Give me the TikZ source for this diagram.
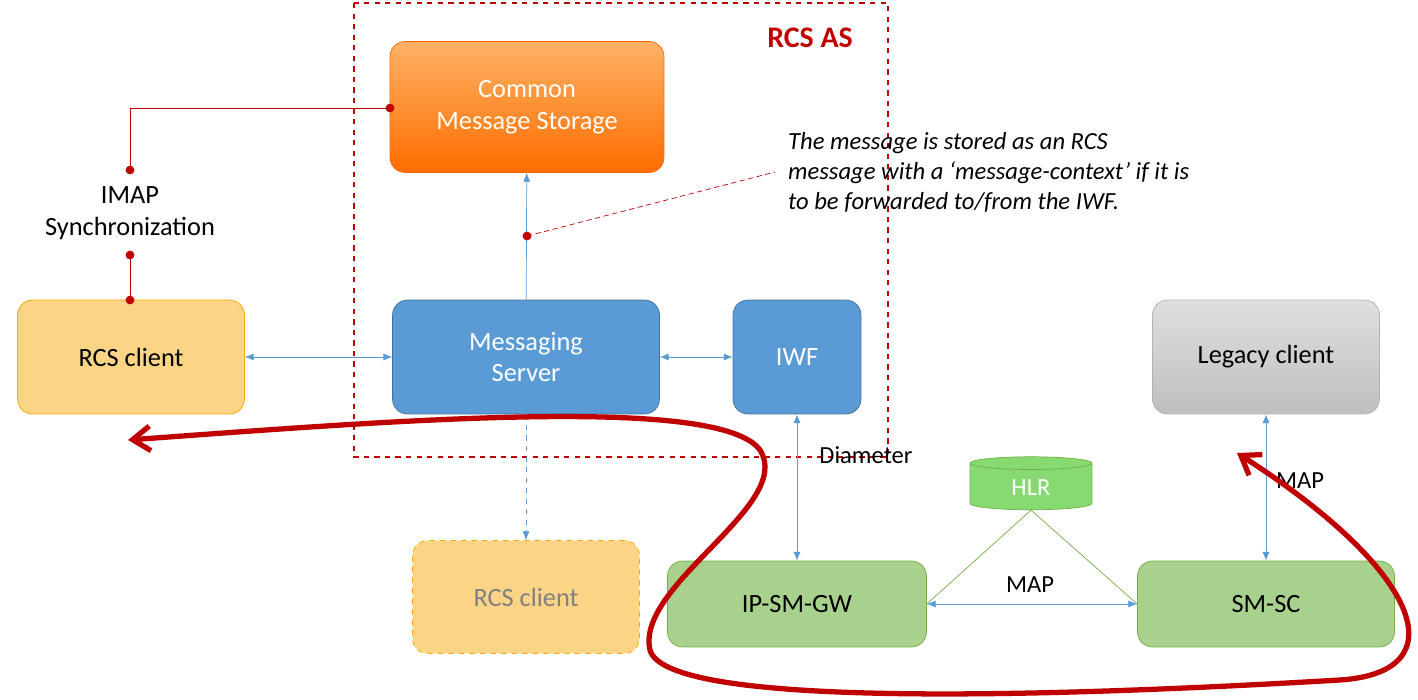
\documentclass[tikz,border=0pt]{standalone}
\usepackage{fontspec}
\setmainfont{Carlito}
\usetikzlibrary{shapes.geometric,arrows.meta}
\definecolor{msblue}{HTML}{5B9BD5}
\definecolor{msedge}{HTML}{41719C}
\definecolor{rcsred}{HTML}{C00000}
\definecolor{gwgreen}{HTML}{A9D18E}
\definecolor{gwedge}{HTML}{70AD47}
\tikzset{
  box/.style={draw, rounded corners=0.3cm, align=center, font=\fontsize{15}{18}\selectfont},
  bluebox/.style={box, fill=msblue, draw=msedge, text=white},
  greenbox/.style={box, fill=gwgreen, draw=gwedge, text=black},
  clientbox/.style={box, fill=yellow!30!orange!45, draw=orange!70!yellow, text=black},
  link/.style={msblue, {Latex[length=5pt,width=4pt]}-{Latex[length=5pt,width=4pt]}},
  dot/.style={circle, fill=rcsred, inner sep=0pt, minimum size=5pt}
}
\begin{document}
\begin{tikzpicture}[x=0.02cm, y=-0.02cm]
  \useasboundingbox (0,0) rectangle (1418,700);

  % RCS AS frame
  \draw[rcsred, dashed, thick] (354,3) rectangle (888,457);
  \node[text=rcsred, font=\fontsize{17}{20}\selectfont\bfseries] (asname) at (810,38) {RCS AS};

  % boxes
  \node[box, top color=orange!60!white, bottom color=orange!85!red, draw=orange!80!red, text=white,
        minimum width=5.48cm, minimum height=2.62cm] (cms) at (527,107) {Common\\Message Storage};
  \node[bluebox, minimum width=5.34cm, minimum height=2.28cm] (ms) at (526,357) {Messaging\\Server};
  \node[bluebox, minimum width=2.56cm, minimum height=2.28cm] (iwf) at (797,357) {IWF};
  \node[clientbox, minimum width=4.54cm, minimum height=2.28cm] (rcs) at (131,357) {RCS client};
  \node[box, top color=gray!25, bottom color=gray!50, draw=gray!60, minimum width=4.54cm, minimum height=2.28cm] (legacy) at (1266,357) {Legacy client};
  \node[clientbox, dashed, text=gray, minimum width=4.54cm, minimum height=2.26cm] (rcs2) at (526,597) {RCS client};
  \node[greenbox, minimum width=5.18cm, minimum height=1.72cm] (gw) at (797,604) {IP-SM-GW};
  \node[greenbox, minimum width=5.14cm, minimum height=1.72cm] (smsc) at (1266,604) {SM-SC};
  \node[cylinder, shape border rotate=90, aspect=0.25, fill=gwgreen!80!green, draw=gwedge, text=white,
        minimum width=2.44cm, minimum height=1.06cm, font=\fontsize{14}{16}\selectfont] (hlr) at (1031,488) {HLR};

  % IMAP synchronization
  \node[font=\fontsize{15}{18}\selectfont, align=center] (imap) at (130,213) {IMAP\\Synchronization};
  \coordinate (c1) at (390,108);
  \coordinate (c2) at (130,108);
  \coordinate (c3) at (130,170);
  \coordinate (c4) at (130,255);
  \coordinate (c5) at (130,300);
  \draw[rcsred] (c1) -- (c2) -- (c3);
  \draw[rcsred] (c4) -- (c5);
  \foreach \c in {c1,c3,c4,c5} \node[dot] at (\c) {};

  % links
  \draw[link] (rcs) -- (ms);
  \draw[link] (ms) -- (iwf);
  \draw[msblue, -{Latex[length=5pt,width=4pt]}] (ms) -- (cms);
  \draw[msblue, dashed, -{Latex[length=5pt,width=4pt]}] (ms) -- (rcs2);
  \draw[link] (iwf) -- (gw);
  \node[font=\fontsize{14}{16}\selectfont] (diam) at (866,455) {Diameter};
  \draw[link] (gw) -- (smsc);
  \node[font=\fontsize{14}{16}\selectfont] (map1) at (1030,585) {MAP};
  \draw[link] (legacy) -- (smsc);
  \node[font=\fontsize{14}{16}\selectfont] (map2) at (1300,481) {MAP};
  \draw[gwedge] (hlr.south) -- (gw.east);
  \draw[gwedge] (hlr.south) -- (smsc.west);

  % note
  \coordinate (n1) at (527,236);
  \coordinate (n2) at (775,172);
  \draw[rcsred, densely dashed] (n1) -- (n2);
  \node[dot] at (n1) {};
  \node[anchor=north west, align=left, font=\fontsize{14}{17}\selectfont\itshape] (note) at (782,126)
    {The message is stored as an RCS\\message with a ‘message-context’ if it is\\to be forwarded to/from the IWF.};

  % message route
  \coordinate (r1) at (128,440);
  \coordinate (r2) at (1237,453);
  \draw[rcsred, line width=3pt, {Straight Barb[length=10pt,width=14pt]}-{Straight Barb[length=10pt,width=14pt]}]
    (r1) .. controls (400,420) and (720,395) .. (760,450)
    .. controls (795,505) and (635,585) .. (650,650)
    .. controls (665,705) and (1000,700) .. (1340,680)
    .. controls (1460,672) and (1420,570) .. (r2);
\end{tikzpicture}
\end{document}
